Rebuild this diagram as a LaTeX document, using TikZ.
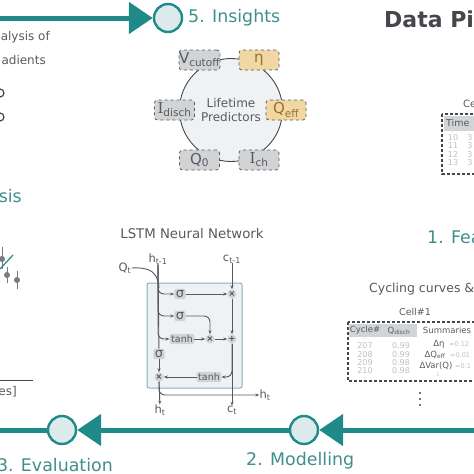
\documentclass[tikz,border=0pt]{standalone}
\usepackage{xcolor}
\usepackage{fontspec}
\setmainfont{DejaVu Sans}
\newfontfamily\barfont{DejaVu Serif}
\usetikzlibrary{arrows.meta,positioning}
\definecolor{slate}{HTML}{565A60}
\definecolor{inkdark}{HTML}{44474C}
\definecolor{teal}{HTML}{1F8A87}
\definecolor{tealtext}{HTML}{3F8F8C}
\definecolor{tealpale}{HTML}{DCEAEB}
\definecolor{cellfill}{HTML}{EFF2F5}
\definecolor{cellline}{HTML}{86B3B2}
\definecolor{chipgrey}{HTML}{D2D3D5}
\definecolor{chiporange}{HTML}{F0D7A4}
\definecolor{chipbrown}{HTML}{9A6F2A}
\definecolor{faint}{HTML}{BDBFC2}
\definecolor{headgrey}{HTML}{D3D4D6}
\newcommand{\sub}[1]{\textsubscript{#1}}
\tikzset{
  stage/.style={circle, draw=teal, fill=tealpale, line width=2.4pt, minimum size=28pt, inner sep=0pt},
  mainflow/.style={-{Triangle[length=24pt, width=31pt]}, draw=teal, line width=5pt},
  mainline/.style={draw=teal, line width=5pt},
  stagelbl/.style={font=\fontsize{17.4}{20}\selectfont, text=tealtext, inner sep=0pt},
  lbl/.style={font=\fontsize{12}{14}\selectfont, text=slate, inner sep=0pt},
  chip/.style={rectangle, rounded corners=3pt, draw=slate, dashed, fill=chipgrey, line width=0.8pt,
               minimum width=40pt, minimum height=20pt, inner sep=0pt, text=slate,
               font=\fontsize{15}{16}\selectfont},
  hotchip/.style={chip, fill=chiporange, text=chipbrown},
  gate/.style={rectangle, rounded corners=2pt, fill=chipgrey, text=slate, inner sep=1.5pt,
               font=\fontsize{9.5}{10}\selectfont},
  sgate/.style={gate, font=\fontsize{13}{13}\selectfont},
  opnode/.style={circle, fill=chipgrey, text=inkdark, inner sep=0pt, minimum size=9pt,
                 font=\fontsize{8}{9}\bfseries\selectfont},
  wire/.style={draw=slate, line width=0.9pt, rounded corners=6pt},
  flow/.style={wire, -{Stealth[length=4pt]}},
  ltxt/.style={font=\fontsize{11.5}{12}\selectfont, text=slate, inner sep=0pt},
  tablebox/.style={draw=inkdark, dashed, line width=1.5pt, dash pattern=on 3pt off 2pt},
  colhead/.style={font=\fontsize{8.5}{10}\selectfont, text=slate, inner sep=0pt},
  rowtxt/.style={font=\fontsize{8}{8.3}\selectfont, text=faint, align=center, inner sep=0pt},
  dotsrow/.style={font=\fontsize{5}{5}\selectfont, text=faint, inner sep=0pt},
  errbar/.style={draw=slate!80, line width=1pt},
  errdot/.style={circle, fill=slate!80, minimum size=6pt, inner sep=0pt},
}
\begin{document}
\begin{tikzpicture}[x=1pt,y=-1pt]
\useasboundingbox (0,0) rectangle (474,474);
\clip (0,0) rectangle (474,474);
% stage line, top
\node[stage] (n5) at (168,18) {};
\coordinate (topstart) at (-5,18);
\draw[mainflow] (topstart) -- (n5);
\node[stagelbl, anchor=west] (l5) at (188,18) {5. Insights};
% stage line, bottom
\node[stage] (n2) at (304,430) {};
\node[stage] (n3) at (62,430) {};
\coordinate (botstart) at (480,430);
\coordinate (botend) at (-5,430);
\draw[mainflow] (botstart) -- (n2);
\draw[mainflow] (n2) -- (n3);
\draw[mainline] (n3) -- (botend);
\node[stagelbl, anchor=east] (l3) at (113,465) {3. Evaluation};
\node[stagelbl, anchor=west] (l2) at (246,461) {2. Modelling};
\node[stagelbl, anchor=west] (l1) at (427,237) {1. Fea};
\node[stagelbl, anchor=east] (l4) at (22,196) {sis};
\node[anchor=west, inner sep=0pt, text=inkdark, font=\fontsize{22}{24}\bfseries\selectfont] (ttl) at (384,19) {Data Pi};
% left panel
\node[lbl, anchor=east] (a1) at (50,37) {alysis of};
\node[lbl, anchor=east] (a2) at (46,60) {adients};
\node[circle, draw=inkdark, line width=1.2pt, minimum size=8pt, inner sep=0pt] (b1) at (0,93) {};
\node[circle, draw=inkdark, line width=1.2pt, minimum size=8pt, inner sep=0pt] (b2) at (0,117) {};
\node[errdot] (p1) at (2,259) {};
\node[errdot] (p2) at (7,275) {};
\node[errdot] (p3) at (17,280) {};
\draw[errbar] (2,247) -- (2,269);
\draw[errbar] (7,267) -- (7,283);
\draw[errbar] (17,271) -- (17,289);
\draw[draw=teal, line width=1.2pt] (0,269) -- (13,255);
\draw[draw=inkdark, line width=0.9pt] (0,380) -- (33,380);
\node[lbl, anchor=east] (a3) at (17,392) {es]};
% predictors
\node[circle, draw=inkdark, fill=cellfill, line width=0.9pt, minimum size=103pt, inner sep=0pt,
      align=center, font=\fontsize{12}{13.5}\selectfont, text=slate] (hub) at (231,110) {Lifetime\\Predictors};
\node[chip] (vc) at (199.5,60) {V\sub{cutoff}};
\node[hotchip] (eta) at (259,60) {η};
\node[chip] (idis) at (174.5,110) {{\barfont I}\sub{disch}};
\node[hotchip] (qef) at (286,110) {Q\sub{eff}};
\node[chip] (qz) at (199.5,160) {Q\sub{0}};
\node[chip] (ich) at (259,160) {{\barfont I}\sub{ch}};
% lstm
\node[lbl, anchor=center, font=\fontsize{13.3}{15}\selectfont] (lstm) at (192,234) {LSTM Neural Network};
\node[rectangle, rounded corners=2pt, draw=cellline, fill=cellfill, line width=1pt,
      minimum width=95pt, minimum height=105pt, inner sep=0pt] (cell) at (194.5,335.5) {};
\node[ltxt] (hprev) at (158,259) {h\sub{t-1}};
\node[ltxt] (cprev) at (232,259) {c\sub{t-1}};
\node[ltxt] (qt) at (125,268) {Q\sub{t}};
\node[ltxt] (hnext) at (160,410) {h\sub{t}};
\node[ltxt] (cnext) at (232,410) {c\sub{t}};
\node[ltxt] (hout) at (265,395) {h\sub{t}};
\node[sgate] (sa) at (180,294) {σ};
\node[sgate] (sb) at (180,316) {σ};
\node[gate] (ta) at (182,339) {tanh};
\node[opnode] (xa) at (210,339) {×};
\node[opnode] (pl) at (232,339) {+};
\node[opnode] (xt) at (232,294) {×};
\node[sgate] (sc) at (159,354) {σ};
\node[opnode] (xb) at (159,377) {×};
\node[gate] (tb) at (209,377) {tanh};
\coordinate (qjoin) at (159,288);
\draw[wire] (qt.east) .. controls (150,267) and (158,272) .. (qjoin);
\draw[wire] (hprev.south) -- (sc);
\draw[flow] (hprev.south) |- (sa);
\draw[flow] (hprev.south) |- (sb);
\draw[flow] (hprev.south) |- (ta);
\draw[flow] (sa) -- (xt);
\draw[flow] (sb) -| (xa);
\draw[flow] (ta) -- (xa);
\draw[flow] (xa) -- (pl);
\draw[flow] (cprev) -- (xt);
\draw[flow] (xt) -- (pl);
\draw[flow] (pl) -- (cnext);
\draw[flow] (pl.south) |- (tb);
\draw[flow] (tb) -- (xb);
\draw[flow] (sc) -- (xb);
\draw[flow] (xb) -- (hnext);
\draw[flow] (xb.south) |- (hout);
% table, upper right
\node[ltxt, anchor=west, font=\fontsize{10}{11}\selectfont] (cu) at (463,104) {Ce};
\fill[headgrey] (444,116) rectangle (476,131);
\draw[tablebox] (442,114) rectangle (490,174);
\node[colhead, anchor=west, font=\fontsize{9.5}{10}\selectfont] (tm) at (446,123) {Time};
\node[rowtxt] (ru) at (453,150) {10\\11\\12\\13};
\node[rowtxt] (rv) at (470,150) {3\\3\\3\\3};
\node[dotsrow] (du1) at (453,132) {...};
\node[dotsrow] (du2) at (453,170) {...};
% table, lower right
\node[lbl, anchor=west, font=\fontsize{12.5}{15}\selectfont] (cyc) at (369,289) {Cycling curves \&};
\node[ltxt, font=\fontsize{9.5}{10}\selectfont] (cellnum) at (415,312) {Cell\#1};
\fill[headgrey] (349,324) rectangle (417,337);
\draw[tablebox] (348,322) rectangle (490,381);
\node[colhead] (hc) at (365,330) {Cycle\#};
\node[colhead] (hq) at (399,331) {Q\sub{disch}};
\node[colhead] (hs) at (447,330) {Summaries};
\node[rowtxt] (rc) at (365,358.5) {207\\208\\209\\210};
\node[rowtxt] (rq) at (401,358.5) {0.99\\0.99\\0.98\\0.98};
\node[dotsrow] (d1) at (365,339) {...};
\node[dotsrow] (d2) at (401,339) {...};
\node[dotsrow] (d3) at (365,378) {...};
\node[dotsrow] (d4) at (401,378) {...};
\node[colhead] (s1) at (439,344) {Δη};
\node[colhead] (s2) at (435,355) {ΔQ\sub{eff}};
\node[colhead] (s3) at (436,366) {ΔVar(Q)};
\node[rowtxt, anchor=west, font=\fontsize{6.5}{7}\selectfont] (v1) at (449,344) {=0.12};
\node[rowtxt, anchor=west, font=\fontsize{6.5}{7}\selectfont] (v2) at (450,355) {=0.01};
\node[rowtxt, anchor=west, font=\fontsize{6.5}{7}\selectfont] (v3) at (455,366) {=0.1};
\node[rowtxt, font=\fontsize{5}{5}\selectfont] (v4) at (438,375) {1};
\foreach \yy in {393,399,405}
  \fill[inkdark] (420,\yy) circle (1.2);
\end{tikzpicture}
\end{document}
